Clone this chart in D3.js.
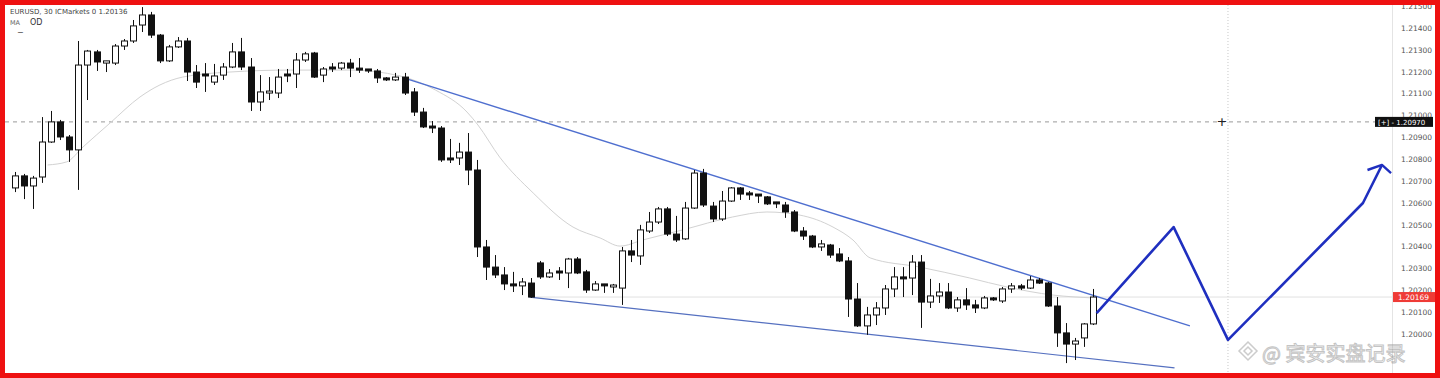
<!DOCTYPE html>
<html>
<head>
<meta charset="utf-8">
<script src="https://cdn.jsdelivr.net/npm/d3@7"></script>
<style>
  html, body { margin: 0; padding: 0; background: #fff; }
  svg { display: block; }
</style>
</head>
<body>
<div id="chart"></div>
<script>
// candle data (index = bar number)
var opens = [1.20668,1.20723,1.20677,1.20718,1.20878,1.20970,1.20901,1.20842,1.21230,1.21290,
  1.21239,1.21239,1.21317,1.21340,1.21413,1.21459,1.21367,1.21249,1.21313,1.21340,
  1.21198,1.21189,1.21152,1.21184,1.21221,1.21290,1.21221,1.21061,1.21102,1.21102,
  1.21189,1.21189,1.21253,1.21285,1.21184,1.21221,1.21216,1.21239,1.21216,1.21212,
  1.21203,1.21171,1.21162,1.21175,1.21107,1.21015,1.20951,1.20942,1.20805,1.20805,
  1.20832,1.20750,1.20398,1.20306,1.20270,1.20229,1.20220,1.20233,1.20325,1.20261,
  1.20288,1.20279,1.20343,1.20284,1.20201,1.20229,1.20215,1.20210,1.20380,1.20357,
  1.20471,1.20512,1.20572,1.20457,1.20435,1.20576,1.20736,1.20585,1.20526,1.20608,
  1.20668,1.20645,1.20640,1.20627,1.20604,1.20590,1.20558,1.20471,1.20448,1.20398,
  1.20407,1.20366,1.20334,1.20160,1.20037,1.20087,1.20119,1.20206,1.20261,1.20256,
  1.20329,1.20146,1.20174,1.20192,1.20119,1.20156,1.20133,1.20119,1.20165,1.20151,
  1.20206,1.20220,1.20210,1.20247,1.20233,1.20128,1.20005,1.19954,1.19982,1.20046];
var highs = [1.20741,1.20732,1.20723,1.20992,1.21020,1.20979,1.20910,1.21340,1.21299,1.21299,
  1.21249,1.21326,1.21349,1.21436,1.21495,1.21473,1.21372,1.21322,1.21358,1.21354,
  1.21230,1.21239,1.21235,1.21239,1.21331,1.21354,1.21262,1.21184,1.21175,1.21212,
  1.21212,1.21285,1.21290,1.21290,1.21221,1.21239,1.21244,1.21258,1.21262,1.21212,
  1.21212,1.21175,1.21194,1.21194,1.21125,1.21034,1.20974,1.20951,1.20892,1.20874,
  1.20919,1.20796,1.20430,1.20361,1.20306,1.20284,1.20256,1.20256,1.20334,1.20297,
  1.20306,1.20348,1.20352,1.20293,1.20242,1.20229,1.20229,1.20398,1.20430,1.20499,
  1.20558,1.20581,1.20581,1.20540,1.20604,1.20750,1.20755,1.20604,1.20654,1.20672,
  1.20672,1.20654,1.20640,1.20631,1.20604,1.20604,1.20567,1.20489,1.20453,1.20430,
  1.20412,1.20393,1.20352,1.20233,1.20124,1.20146,1.20224,1.20306,1.20306,1.20361,
  1.20361,1.20252,1.20233,1.20233,1.20169,1.20210,1.20156,1.20174,1.20169,1.20215,
  1.20233,1.20229,1.20265,1.20256,1.20238,1.20169,1.20050,1.19982,1.20050,1.20206];
var lows = [1.20649,1.20617,1.20572,1.20691,1.20874,1.20887,1.20787,1.20659,1.21070,1.21203,
  1.21198,1.21230,1.21299,1.21331,1.21381,1.21354,1.21239,1.21244,1.21308,1.21157,
  1.21125,1.21107,1.21139,1.21162,1.21216,1.21207,1.21020,1.21020,1.21070,1.21079,
  1.21152,1.21125,1.21244,1.21171,1.21152,1.21198,1.21207,1.21175,1.21194,1.21194,
  1.21148,1.21157,1.21157,1.21093,1.20997,1.20942,1.20919,1.20787,1.20782,1.20773,
  1.20681,1.20352,1.20247,1.20256,1.20201,1.20192,1.20178,1.20165,1.20252,1.20256,
  1.20247,1.20210,1.20274,1.20188,1.20197,1.20188,1.20188,1.20133,1.20329,1.20316,
  1.20462,1.20503,1.20448,1.20421,1.20430,1.20572,1.20581,1.20512,1.20517,1.20604,
  1.20613,1.20613,1.20599,1.20590,1.20576,1.20531,1.20466,1.20430,1.20393,1.20380,
  1.20348,1.20329,1.20078,1.20032,1.19996,1.20041,1.20087,1.20169,1.20169,1.20178,
  1.20028,1.20119,1.20142,1.20114,1.20101,1.20110,1.20096,1.20114,1.20151,1.20142,
  1.20188,1.20201,1.20206,1.20229,1.20124,1.19941,1.19867,1.19881,1.19941,1.20041];
var closes = [1.20723,1.20677,1.20713,1.20878,1.20970,1.20901,1.20842,1.21230,1.21294,1.21244,
  1.21249,1.21317,1.21340,1.21409,1.21459,1.21367,1.21249,1.21313,1.21340,1.21198,
  1.21152,1.21180,1.21180,1.21221,1.21290,1.21221,1.21061,1.21107,1.21111,1.21175,
  1.21180,1.21253,1.21281,1.21175,1.21212,1.21212,1.21239,1.21216,1.21207,1.21203,
  1.21171,1.21162,1.21175,1.21102,1.21015,1.20947,1.20942,1.20796,1.20796,1.20832,
  1.20750,1.20398,1.20306,1.20270,1.20229,1.20220,1.20238,1.20169,1.20261,1.20279,
  1.20279,1.20343,1.20279,1.20201,1.20229,1.20220,1.20224,1.20380,1.20361,1.20476,
  1.20512,1.20572,1.20457,1.20430,1.20576,1.20736,1.20590,1.20526,1.20608,1.20668,
  1.20640,1.20636,1.20631,1.20595,1.20595,1.20558,1.20471,1.20448,1.20398,1.20412,
  1.20361,1.20334,1.20160,1.20037,1.20087,1.20119,1.20206,1.20261,1.20252,1.20329,
  1.20146,1.20174,1.20192,1.20119,1.20156,1.20133,1.20119,1.20165,1.20156,1.20206,
  1.20220,1.20210,1.20247,1.20233,1.20128,1.20005,1.19954,1.19968,1.20046,1.20169];

// moving average, traced as (bar, price)
var maBars =   [3.6,5.7,7.5,10.5,13.8,16.0,18.5,23.7,30.4,37.0,42.5,46.4,49.9,51.1,53.5,57.2,61.6,64.6,66.8,69.3,73.7,79.2,83.0,86.6,90.3,92.5,94.4,99.9,105.4,109.5,114.6,119.0];
var maValues = [1.20773,1.20787,1.20855,1.20965,1.21084,1.21139,1.21175,1.21198,1.21207,1.21207,1.21180,1.21116,1.21015,1.20956,1.20809,1.20645,1.20489,1.20439,1.20402,1.20430,1.20476,1.20535,1.20558,1.20544,1.20489,1.20430,1.20348,1.20306,1.20256,1.20215,1.20178,1.20165];

// drawn lines (bar, price)
var upperTrend = [[42.9, 1.21171], [129.7, 1.20037]];
var lowerTrend = [[56.8, 1.20169], [128.0, 1.19845]];
var projection = [[119.4, 1.20096], [127.9, 1.20489], [133.9, 1.19973], [148.8, 1.20599], [150.9, 1.20773]];
var arrowHead = [[149.3, 1.20750], [150.9, 1.20773], [151.9, 1.20736]];

var priceTicks = [1.200,1.201,1.202,1.203,1.204,1.205,1.206,1.207,1.208,1.209,1.210,1.211,1.212,1.213,1.214,1.215];
var crossPrice = 1.20970, crossBar = 133.9;
var lastPrice = 1.20169, supportStart = 57;

var width = 1440, height = 378;
var plotRight = 1392;

var svg = d3.select('#chart').append('svg')
  .attr('width', width).attr('height', height);

var x = d3.scaleLinear().domain([0, 119]).range([15, 1093]);
var y = d3.scaleLinear().domain([1.200, 1.215]).range([334, 6]);

var candles = d3.range(opens.length).map(function (i) {
  return { i: i, o: opens[i], h: highs[i], l: lows[i], c: closes[i] };
});

// crosshair + price lines
svg.append('line')
  .attr('x1', 5).attr('x2', plotRight)
  .attr('y1', y(crossPrice)).attr('y2', y(crossPrice))
  .attr('stroke', '#9a9a9a').attr('stroke-dasharray', '4,4');
svg.append('line')
  .attr('x1', x(crossBar)).attr('x2', x(crossBar))
  .attr('y1', 5).attr('y2', height - 5)
  .attr('stroke', '#c8c8c8').attr('stroke-dasharray', '1,2');
svg.append('line')
  .attr('x1', x(supportStart)).attr('x2', plotRight)
  .attr('y1', y(lastPrice)).attr('y2', y(lastPrice))
  .attr('stroke', '#e2e2e2');

// moving average
var line = d3.line().x(d => x(d[0])).y(d => y(d[1])).curve(d3.curveMonotoneX);
svg.append('path')
  .datum(maBars.map((b, k) => [b, maValues[k]]))
  .attr('d', line).attr('fill', 'none')
  .attr('stroke', '#d2d2d2').attr('stroke-width', 1);

// trend lines
var straight = d3.line().x(d => x(d[0])).y(d => y(d[1]));
svg.append('path').datum(upperTrend).attr('d', straight)
  .attr('stroke', '#4f6fcf').attr('stroke-width', 1.4).attr('fill', 'none');
svg.append('path').datum(lowerTrend).attr('d', straight)
  .attr('stroke', '#5570c0').attr('stroke-width', 1.2).attr('fill', 'none');

// candles
var g = svg.append('g');
g.selectAll('line.wick').data(candles).join('line')
  .attr('class', 'wick')
  .attr('x1', d => Math.round(x(d.i)) + 0.5).attr('x2', d => Math.round(x(d.i)) + 0.5)
  .attr('y1', d => y(d.h)).attr('y2', d => y(d.l))
  .attr('stroke', '#111').attr('stroke-width', 1);
g.selectAll('rect').data(candles).join('rect')
  .attr('x', d => Math.round(x(d.i)) - 2.5)
  .attr('y', d => y(Math.max(d.o, d.c)))
  .attr('width', 6)
  .attr('height', d => Math.max(1, y(Math.min(d.o, d.c)) - y(Math.max(d.o, d.c))))
  .attr('fill', d => d.c >= d.o ? '#fff' : '#111')
  .attr('stroke', '#111').attr('stroke-width', 1);

// projected path
svg.append('path').datum(projection).attr('d', straight)
  .attr('stroke', '#1f2fbf').attr('stroke-width', 2.6).attr('fill', 'none')
  .attr('stroke-linejoin', 'round');
svg.append('path').datum(arrowHead).attr('d', straight)
  .attr('stroke', '#1f2fbf').attr('stroke-width', 2.4).attr('fill', 'none')
  .attr('stroke-linejoin', 'round');

// right price axis
svg.append('line')
  .attr('x1', plotRight + 0.5).attr('x2', plotRight + 0.5)
  .attr('y1', 4).attr('y2', height - 4)
  .attr('stroke', '#e4e4e4');
var axis = svg.append('g')
  .attr('transform', 'translate(' + (plotRight + 6) + ',0)')
  .call(d3.axisRight(y).tickValues(priceTicks).tickFormat(d3.format('.5f')).tickSize(0));
axis.select('.domain').remove();
axis.selectAll('text')
  .attr('font-family', 'DejaVu Sans').attr('font-size', 7.5).attr('fill', '#555');

// crosshair price label
var cy = y(crossPrice);
svg.append('rect').attr('x', 1375).attr('y', cy - 5).attr('width', 58).attr('height', 10).attr('fill', '#111');
svg.append('text').attr('x', 1378).attr('y', cy + 3)
  .attr('font-family', 'DejaVu Sans').attr('font-size', 7).attr('fill', '#fff')
  .text('[+] - ' + d3.format('.5f')(crossPrice));
svg.append('text').attr('x', 1222).attr('y', cy + 4)
  .attr('text-anchor', 'middle').attr('font-family', 'DejaVu Sans')
  .attr('font-size', 13).attr('fill', '#222').text('+');

// last price label
var ly = y(lastPrice);
svg.append('rect').attr('x', plotRight + 1).attr('y', ly - 5).attr('width', 42).attr('height', 10).attr('fill', '#ef3b36');
svg.append('text').attr('x', plotRight + 6).attr('y', ly + 3)
  .attr('font-family', 'DejaVu Sans').attr('font-size', 7.5).attr('fill', '#fff')
  .text(d3.format('.5f')(lastPrice));

// legend top-left
svg.append('text').attr('x', 10).attr('y', 14)
  .attr('font-family', 'DejaVu Sans').attr('font-size', 7).attr('fill', '#444')
  .text('EURUSD, 30  ICMarkets 0   1.20136');
svg.append('text').attr('x', 10).attr('y', 25)
  .attr('font-family', 'DejaVu Sans').attr('font-size', 6.5).attr('fill', '#666')
  .text('MA');
svg.append('text').attr('x', 30).attr('y', 25)
  .attr('font-family', 'DejaVu Sans').attr('font-size', 8).attr('fill', '#333')
  .text('OD');
svg.append('text').attr('x', 17).attr('y', 35)
  .attr('font-family', 'DejaVu Sans').attr('font-size', 8).attr('fill', '#444')
  .text('−');

// watermark
var wm = svg.append('g').attr('opacity', 0.5);
wm.append('path')
  .attr('d', 'M1248,342 L1257,351 L1248,360 L1239,351 Z M1248,347 L1252,351 L1248,355 L1244,351 Z')
  .attr('fill', 'none').attr('stroke', '#9a9a9a').attr('stroke-width', 1.5);
wm.append('text').attr('x', 1262).attr('y', 361)
  .attr('font-family', 'Noto Sans CJK SC').attr('font-size', 20)
  .attr('fill', '#fff').attr('stroke', '#8a8a8a').attr('stroke-width', 1)
  .text('@ 宾安实盘记录');

// red frame
svg.append('rect').attr('x', 2.5).attr('y', 2.5)
  .attr('width', width - 5).attr('height', height - 5)
  .attr('fill', 'none').attr('stroke', '#ee1111').attr('stroke-width', 5);
</script>
</body>
</html>
